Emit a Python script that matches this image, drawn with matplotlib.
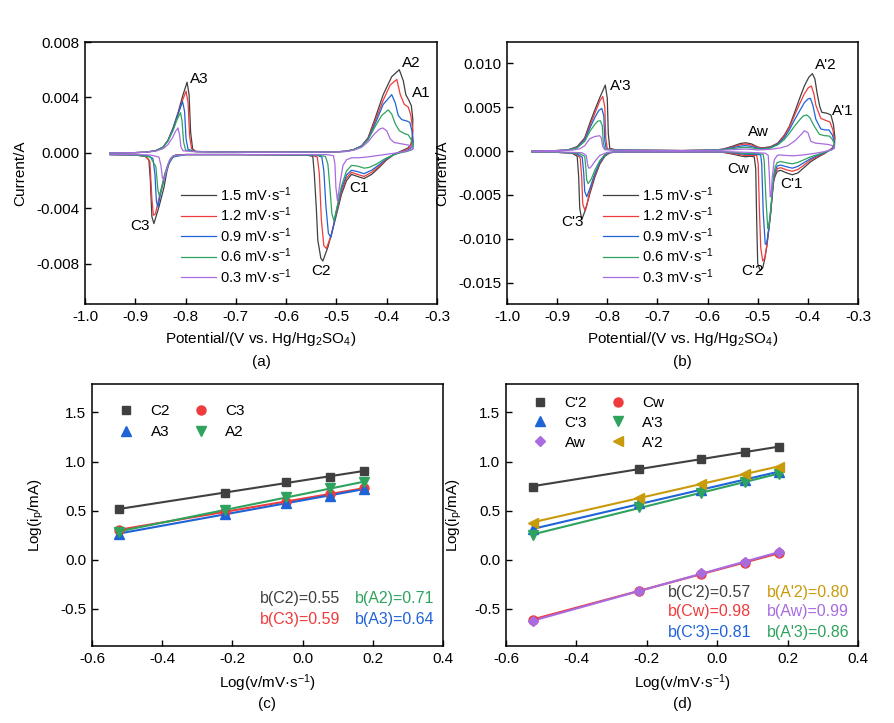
import numpy as np
import matplotlib
matplotlib.use('Agg')
import matplotlib.pyplot as plt

plt.rcParams['font.family'] = ['Liberation Sans', 'DejaVu Sans']
plt.rcParams['mathtext.fontset'] = 'custom'
plt.rcParams['mathtext.rm'] = 'Liberation Sans'
plt.rcParams['mathtext.it'] = 'Liberation Sans:italic'
plt.rcParams['mathtext.bf'] = 'Liberation Sans:bold'

# ---------------- data: CV curves, panel (a)  (E in V, I in mA) ----------------
scan_labels = ['1.5 mV·s$^{-1}$', '1.2 mV·s$^{-1}$', '0.9 mV·s$^{-1}$',
               '0.6 mV·s$^{-1}$', '0.3 mV·s$^{-1}$']

a15_E = [-0.95, -0.90, -0.88, -0.86, -0.845, -0.835, -0.825, -0.815, -0.805, -0.797,
         -0.793, -0.790, -0.786, -0.78, -0.70, -0.60, -0.50, -0.48, -0.465, -0.45,
         -0.437, -0.423, -0.407, -0.39, -0.375, -0.367, -0.362, -0.356, -0.351, -0.348,
         -0.349, -0.352, -0.358, -0.37, -0.385, -0.40, -0.415, -0.43, -0.445, -0.458,
         -0.47, -0.48, -0.49, -0.503, -0.517, -0.527, -0.531, -0.537, -0.540, -0.544,
         -0.547, -0.56, -0.70, -0.80, -0.82, -0.83, -0.837, -0.843, -0.853, -0.863,
         -0.867, -0.870, -0.873, -0.88, -0.90, -0.95]
a15_I = [0.0, 0.02, 0.05, 0.15, 0.4, 0.9, 1.8, 2.9, 4.2, 5.1,
         4.2, 1.5, 0.3, 0.1, 0.05, 0.05, 0.08, 0.12, 0.25, 0.5,
         1.1, 2.5, 4.2, 5.5, 6.0, 5.2, 4.2, 3.8, 3.4, 2.4,
         1.2, 0.6, 0.35, 0.15, -0.1, -0.5, -1.05, -1.55, -1.85, -1.7,
         -1.55, -2.0, -3.0, -4.9, -6.8, -7.8, -7.6, -6.3, -4.0, -1.5,
         -0.25, -0.15, -0.12, -0.12, -0.15, -0.4, -1.3, -2.5, -3.9, -5.1,
         -4.6, -2.0, -0.5, -0.25, -0.15, -0.12]

a12_E = [-0.95, -0.90, -0.88, -0.86, -0.845, -0.835, -0.825, -0.815, -0.806, -0.799,
         -0.795, -0.792, -0.788, -0.78, -0.70, -0.60, -0.50, -0.48, -0.465, -0.45,
         -0.437, -0.423, -0.407, -0.393, -0.38, -0.373, -0.365, -0.357, -0.352, -0.348,
         -0.349, -0.352, -0.358, -0.37, -0.385, -0.40, -0.415, -0.43, -0.445, -0.458,
         -0.47, -0.48, -0.49, -0.50, -0.51, -0.52, -0.525, -0.53, -0.534, -0.538,
         -0.55, -0.70, -0.80, -0.822, -0.832, -0.84, -0.85, -0.86, -0.864, -0.867,
         -0.871, -0.88, -0.90, -0.95]
a12_I = [0.0, 0.02, 0.05, 0.15, 0.4, 0.9, 1.7, 2.8, 3.8, 4.45,
         3.6, 1.2, 0.3, 0.1, 0.05, 0.05, 0.08, 0.12, 0.25, 0.5,
         1.05, 2.3, 3.8, 4.9, 5.3, 4.2, 3.5, 3.3, 2.7, 1.6,
         0.8, 0.5, 0.3, 0.1, -0.1, -0.45, -0.95, -1.4, -1.7, -1.55,
         -1.4, -1.8, -2.8, -4.3, -5.9, -6.9, -6.7, -4.8, -1.5, -0.3,
         -0.15, -0.12, -0.12, -0.2, -0.6, -1.4, -2.8, -4.4, -4.5, -3.3,
         -0.6, -0.25, -0.15, -0.12]

a09_E = [-0.95, -0.90, -0.88, -0.86, -0.845, -0.835, -0.825, -0.815, -0.806, -0.802,
         -0.799, -0.795, -0.78, -0.70, -0.60, -0.50, -0.48, -0.465, -0.45, -0.437,
         -0.423, -0.407, -0.39, -0.383, -0.377, -0.37, -0.36, -0.354, -0.35, -0.347,
         -0.348, -0.352, -0.358, -0.37, -0.385, -0.40, -0.415, -0.43, -0.445, -0.458,
         -0.47, -0.48, -0.49, -0.50, -0.506, -0.511, -0.516, -0.521, -0.525, -0.529,
         -0.54, -0.70, -0.80, -0.825, -0.835, -0.842, -0.85, -0.855, -0.858, -0.861,
         -0.865, -0.875, -0.90, -0.95]
a09_I = [0.0, 0.02, 0.05, 0.15, 0.4, 0.9, 1.7, 2.8, 3.7, 3.0,
         1.0, 0.25, 0.1, 0.05, 0.05, 0.08, 0.12, 0.25, 0.5, 1.0,
         2.1, 3.5, 4.2, 3.6, 2.7, 2.4, 2.3, 2.2, 1.6, 0.8,
         0.5, 0.35, 0.2, 0.05, -0.1, -0.4, -0.85, -1.25, -1.5, -1.35,
         -1.25, -1.6, -2.6, -4.2, -5.3, -6.1, -5.8, -3.8, -1.3, -0.3,
         -0.15, -0.12, -0.12, -0.3, -0.9, -1.8, -3.0, -3.9, -3.5, -1.5,
         -0.4, -0.2, -0.15, -0.12]

a06_E = [-0.95, -0.90, -0.88, -0.86, -0.845, -0.835, -0.825, -0.817, -0.81, -0.807,
         -0.804, -0.80, -0.78, -0.70, -0.60, -0.50, -0.48, -0.465, -0.45, -0.437,
         -0.423, -0.41, -0.397, -0.39, -0.383, -0.375, -0.365, -0.357, -0.352, -0.347,
         -0.348, -0.352, -0.36, -0.375, -0.39, -0.405, -0.42, -0.435, -0.445, -0.458,
         -0.47, -0.48, -0.49, -0.50, -0.505, -0.509, -0.513, -0.517, -0.522, -0.54,
         -0.70, -0.80, -0.825, -0.835, -0.842, -0.848, -0.852, -0.855, -0.859, -0.87,
         -0.90, -0.95]
a06_I = [0.0, 0.02, 0.05, 0.15, 0.4, 0.85, 1.6, 2.4, 2.9, 2.3,
         0.8, 0.2, 0.1, 0.05, 0.05, 0.08, 0.12, 0.25, 0.45, 0.95,
         1.9, 2.7, 3.1, 2.8, 2.1, 1.6, 1.4, 1.3, 1.0, 0.6,
         0.3, 0.2, 0.1, 0.0, -0.2, -0.45, -0.8, -1.05, -1.1, -0.95,
         -0.9, -1.3, -2.4, -4.1, -4.9, -4.4, -2.5, -0.8, -0.25, -0.15,
         -0.12, -0.12, -0.25, -0.8, -1.6, -2.6, -3.1, -2.7, -1.0, -0.3,
         -0.15, -0.12]

a03_E = [-0.95, -0.90, -0.88, -0.86, -0.845, -0.835, -0.826, -0.82, -0.815, -0.812,
         -0.809, -0.805, -0.78, -0.70, -0.60, -0.50, -0.48, -0.465, -0.45, -0.437,
         -0.425, -0.415, -0.408, -0.40, -0.393, -0.385, -0.37, -0.355, -0.348,
         -0.348, -0.355, -0.365, -0.38, -0.40, -0.42, -0.44, -0.455, -0.47, -0.48,
         -0.487, -0.493, -0.498, -0.501, -0.503, -0.506, -0.52, -0.70, -0.80, -0.825,
         -0.833, -0.838, -0.843, -0.846, -0.849, -0.853, -0.87, -0.90, -0.95]
a03_I = [0.0, 0.02, 0.05, 0.12, 0.3, 0.6, 1.1, 1.55, 1.8, 1.3,
         0.4, 0.15, 0.08, 0.05, 0.05, 0.07, 0.1, 0.2, 0.4, 0.8,
         1.35, 1.7, 1.8, 1.6, 1.0, 0.75, 0.65, 0.55, 0.35,
         0.25, 0.2, 0.1, 0.0, -0.1, -0.2, -0.3, -0.35, -0.35, -0.5,
         -0.9, -2.2, -3.45, -2.5, -0.8, -0.2, -0.12, -0.12, -0.12, -0.2,
         -0.6, -1.3, -1.95, -1.8, -0.9, -0.3, -0.15, -0.12, -0.12]

# ---------------- data: CV curves, panel (b)  (E in V, I in mA) ----------------
b15_E = [-0.95, -0.90, -0.88, -0.86, -0.845, -0.834, -0.824, -0.814, -0.804, -0.800,
         -0.798, -0.795, -0.78, -0.65, -0.59, -0.57, -0.55, -0.535, -0.524, -0.512,
         -0.50, -0.49, -0.474, -0.46, -0.447, -0.437, -0.427, -0.417, -0.407, -0.398,
         -0.391, -0.386, -0.381, -0.376, -0.372, -0.362, -0.354, -0.349, -0.346,
         -0.347, -0.352, -0.367, -0.38, -0.394, -0.41, -0.42, -0.431, -0.442, -0.454,
         -0.461, -0.465, -0.468, -0.471, -0.474, -0.478, -0.482, -0.486, -0.490, -0.495,
         -0.500, -0.502, -0.504, -0.507, -0.515, -0.525, -0.535, -0.55, -0.57, -0.60,
         -0.78, -0.795, -0.805, -0.815, -0.825, -0.835, -0.843, -0.851, -0.855, -0.857,
         -0.86, -0.87, -0.90, -0.95]
b15_I = [0.0, 0.05, 0.1, 0.5, 1.5, 3.3, 4.8, 6.2, 7.5, 6.0,
         2.0, 0.3, 0.1, 0.05, 0.1, 0.2, 0.55, 0.85, 0.94, 0.8,
         0.45, 0.35, 0.5, 0.9, 1.8, 2.8, 4.3, 5.9, 7.4, 8.4,
         8.8, 8.2, 6.4, 5.0, 4.4, 4.3, 4.1, 3.0, 1.5,
         0.8, 0.3, -0.3, -0.7, -1.2, -2.0, -2.5, -2.7, -2.5, -2.2,
         -2.3, -2.8, -3.4, -5.0, -7.0, -9.0, -10.9, -12.3, -13.3, -13.6,
         -12.8, -8.0, -2.0, -0.65, -0.6, -0.65, -0.55, -0.35, -0.15, -0.1,
         -0.1, -0.2, -0.6, -1.5, -3.0, -4.9, -6.6, -7.8, -6.5, -3.0,
         -0.6, -0.25, -0.15, -0.1]

b12_E = [-0.95, -0.90, -0.88, -0.86, -0.845, -0.834, -0.824, -0.815, -0.809, -0.805,
         -0.803, -0.800, -0.78, -0.65, -0.59, -0.57, -0.55, -0.535, -0.524, -0.512,
         -0.50, -0.49, -0.474, -0.46, -0.447, -0.437, -0.427, -0.417, -0.407, -0.399,
         -0.393, -0.388, -0.384, -0.374, -0.365, -0.356, -0.35, -0.347,
         -0.347, -0.352, -0.367, -0.38, -0.394, -0.41, -0.42, -0.431, -0.442, -0.454,
         -0.461, -0.465, -0.468, -0.471, -0.474, -0.478, -0.482, -0.486, -0.490, -0.494,
         -0.497, -0.499, -0.502, -0.515, -0.525, -0.535, -0.55, -0.57, -0.60, -0.78,
         -0.795, -0.805, -0.815, -0.825, -0.835, -0.841, -0.845, -0.849, -0.851, -0.854,
         -0.86, -0.87, -0.90, -0.95]
b12_I = [0.0, 0.05, 0.1, 0.45, 1.4, 3.0, 4.4, 5.7, 6.2, 5.0,
         1.5, 0.25, 0.1, 0.05, 0.1, 0.2, 0.45, 0.72, 0.8, 0.68,
         0.4, 0.3, 0.45, 0.85, 1.7, 2.7, 4.0, 5.3, 6.5, 7.2,
         7.4, 6.5, 5.2, 3.7, 3.5, 3.3, 2.4, 1.2,
         0.6, 0.25, -0.25, -0.6, -1.0, -1.7, -2.1, -2.3, -2.15, -1.9,
         -2.0, -2.5, -3.2, -4.9, -6.9, -8.9, -10.8, -12.2, -12.5, -11.0,
         -6.0, -1.5, -0.5, -0.5, -0.5, -0.42, -0.28, -0.12, -0.1, -0.1,
         -0.2, -0.55, -1.4, -2.8, -4.6, -6.2, -6.7, -6.0, -3.0, -0.8,
         -0.4, -0.2, -0.15, -0.1]

b09_E = [-0.95, -0.90, -0.88, -0.86, -0.845, -0.834, -0.824, -0.817, -0.811, -0.807,
         -0.805, -0.802, -0.78, -0.65, -0.59, -0.57, -0.55, -0.535, -0.524, -0.512,
         -0.50, -0.49, -0.474, -0.46, -0.447, -0.437, -0.427, -0.417, -0.407, -0.40,
         -0.395, -0.39, -0.384, -0.374, -0.365, -0.358, -0.351, -0.347,
         -0.347, -0.352, -0.367, -0.38, -0.394, -0.41, -0.42, -0.431, -0.442, -0.454,
         -0.461, -0.465, -0.468, -0.471, -0.474, -0.478, -0.482, -0.485, -0.489, -0.492,
         -0.494, -0.50, -0.515, -0.525, -0.535, -0.55, -0.57, -0.60, -0.78, -0.795,
         -0.805, -0.815, -0.825, -0.835, -0.841, -0.845, -0.847, -0.85, -0.86, -0.87,
         -0.90, -0.95]
b09_I = [0.0, 0.05, 0.1, 0.4, 1.3, 2.7, 3.9, 4.6, 4.85, 4.0,
         1.2, 0.2, 0.1, 0.05, 0.1, 0.18, 0.38, 0.55, 0.62, 0.52,
         0.32, 0.25, 0.4, 0.8, 1.5, 2.4, 3.5, 4.5, 5.5, 5.9,
         6.0, 5.2, 3.6, 2.5, 2.4, 2.4, 1.8, 1.0,
         0.5, 0.2, -0.2, -0.5, -0.85, -1.4, -1.75, -1.95, -1.8, -1.6,
         -1.7, -2.2, -3.0, -4.8, -6.8, -8.8, -10.5, -10.6, -7.0, -1.5,
         -0.45, -0.4, -0.38, -0.38, -0.3, -0.2, -0.1, -0.1, -0.1, -0.18,
         -0.5, -1.3, -2.6, -4.3, -5.2, -4.6, -2.5, -0.7, -0.35, -0.2,
         -0.15, -0.1]

b06_E = [-0.95, -0.90, -0.88, -0.86, -0.845, -0.834, -0.824, -0.819, -0.814, -0.81,
         -0.808, -0.805, -0.78, -0.65, -0.59, -0.57, -0.55, -0.535, -0.524, -0.512,
         -0.50, -0.49, -0.474, -0.46, -0.447, -0.437, -0.427, -0.417, -0.409, -0.402,
         -0.396, -0.387, -0.377, -0.367, -0.357, -0.351, -0.347,
         -0.347, -0.352, -0.367, -0.38, -0.394, -0.41, -0.42, -0.431, -0.442, -0.454,
         -0.461, -0.465, -0.468, -0.471, -0.474, -0.478, -0.480, -0.484, -0.487, -0.489,
         -0.495, -0.515, -0.525, -0.535, -0.55, -0.57, -0.60, -0.78, -0.795, -0.805,
         -0.815, -0.825, -0.832, -0.838, -0.841, -0.843, -0.845, -0.855, -0.87, -0.90,
         -0.95]
b06_I = [0.0, 0.05, 0.1, 0.35, 1.1, 2.3, 3.1, 3.4, 3.45, 2.9,
         1.0, 0.2, 0.1, 0.05, 0.1, 0.15, 0.28, 0.38, 0.42, 0.36,
         0.25, 0.2, 0.35, 0.7, 1.3, 2.0, 2.8, 3.5, 4.0, 4.1,
         3.8, 2.8, 1.9, 1.75, 1.7, 1.3, 0.8,
         0.4, 0.15, -0.15, -0.4, -0.65, -1.05, -1.3, -1.45, -1.35, -1.2,
         -1.3, -1.8, -2.7, -4.5, -6.6, -8.6, -8.8, -5.0, -1.2, -0.4,
         -0.3, -0.3, -0.3, -0.22, -0.15, -0.1, -0.1, -0.1, -0.15, -0.4,
         -1.1, -2.2, -3.2, -3.7, -3.3, -1.8, -0.6, -0.3, -0.2, -0.15,
         -0.1]

b03_E = [-0.95, -0.90, -0.87, -0.855, -0.845, -0.835, -0.825, -0.815, -0.812, -0.809,
         -0.805, -0.78, -0.65, -0.59, -0.57, -0.55, -0.535, -0.524, -0.512, -0.50,
         -0.474, -0.455, -0.44, -0.425, -0.413, -0.407, -0.40, -0.394, -0.385, -0.36,
         -0.35, -0.347,
         -0.347, -0.355, -0.37, -0.39, -0.41, -0.43, -0.445, -0.455, -0.461, -0.467,
         -0.471, -0.473, -0.475, -0.477, -0.479, -0.485, -0.50, -0.52, -0.55, -0.60,
         -0.78, -0.80, -0.815, -0.825, -0.831, -0.834, -0.837, -0.839, -0.842, -0.85,
         -0.87, -0.90, -0.95]
b03_I = [0.0, 0.05, 0.1, 0.25, 0.6, 1.4, 1.65, 1.74, 1.5, 0.5,
         0.15, 0.08, 0.05, 0.08, 0.1, 0.15, 0.2, 0.22, 0.18, 0.12,
         0.2, 0.35, 0.6, 1.2, 1.9, 2.3, 2.1, 1.1, 0.9, 0.75,
         0.6, 0.4,
         0.3, 0.1, -0.1, -0.3, -0.45, -0.55, -0.5, -0.45, -0.5, -1.0,
         -3.0, -5.0, -5.2, -2.5, -0.5, -0.25, -0.2, -0.15, -0.1, -0.1,
         -0.1, -0.15, -0.5, -1.2, -1.7, -1.9, -1.95, -1.6, -0.5, -0.2,
         -0.15, -0.1, -0.1]

# ---------------- data: log(ip) vs log(v) ----------------
log_v = [-0.523, -0.222, -0.046, 0.079, 0.176]

c_C2 = [0.514, 0.684, 0.790, 0.847, 0.902]
c_C3 = [0.303, 0.490, 0.592, 0.670, 0.728]
c_A3 = [0.262, 0.466, 0.582, 0.650, 0.718]
c_A2 = [0.286, 0.507, 0.637, 0.728, 0.790]
c_names = ['C2', 'A3', 'C3', 'A2']
c_bvals = ['b(C2)=0.55', 'b(A2)=0.71', 'b(C3)=0.59', 'b(A3)=0.64']

d_C2p = [0.745, 0.926, 1.028, 1.102, 1.143]
d_Cw = [-0.610, -0.316, -0.146, -0.030, 0.065]
d_C3p = [0.310, 0.575, 0.711, 0.813, 0.898]
d_A3p = [0.252, 0.535, 0.684, 0.790, 0.874]
d_Aw = [-0.622, -0.322, -0.139, -0.020, 0.075]
d_A2p = [0.378, 0.633, 0.772, 0.871, 0.949]
d_names = ["C'2", "C'3", 'Aw', 'Cw', "A'3", "A'2"]
d_bvals = ["b(C'2)=0.57", "b(A'2)=0.80", "b(Cw)=0.98", "b(Aw)=0.99",
           "b(C'3)=0.81", "b(A'3)=0.86"]

cv_xticks = [-1.0, -0.9, -0.8, -0.7, -0.6, -0.5, -0.4, -0.3]
cv_xticklabels = ['-1.0', '-0.9', '-0.8', '-0.7', '-0.6', '-0.5', '-0.4', '-0.3']
a_yticks = [-0.008, -0.004, 0.0, 0.004, 0.008]
a_yticklabels = ['-0.008', '-0.004', '0.000', '0.004', '0.008']
b_yticks = [-0.015, -0.010, -0.005, 0.0, 0.005, 0.010]
b_yticklabels = ['-0.015', '-0.010', '-0.005', '0.000', '0.005', '0.010']
log_xticks = [-0.6, -0.4, -0.2, 0.0, 0.2, 0.4]
log_xticklabels = ['-0.6', '-0.4', '-0.2', '0.0', '0.2', '0.4']
log_yticks = [-0.5, 0.0, 0.5, 1.0, 1.5]
log_yticklabels = ['-0.5', '0.0', '0.5', '1.0', '1.5']

# ---------------- styles ----------------
K = '#404040'
R = '#EE3B3B'
B = '#1F63D6'
G = '#2EA35E'
P = '#A86BE0'
Y = '#C99A0A'
cv_colors = [K, R, B, G, P]
FS = 11

fig = plt.figure(figsize=(8.95, 7.23), dpi=100)


def rect(l, t, r, b):
    return [l / 895, 1 - b / 723, (r - l) / 895, (b - t) / 723]


def style(ax):
    ax.tick_params(direction='in', length=4.5, width=1.0, labelsize=FS,
                   top=False, right=False, pad=4)
    for s in ax.spines.values():
        s.set_linewidth(1.1)


axA = fig.add_axes(rect(85, 42, 437, 304))
axB = fig.add_axes(rect(507, 42, 858, 304))
axC = fig.add_axes(rect(92, 384, 443, 646))
axD = fig.add_axes(rect(506, 384, 858, 646))

XLAB_Y = -0.10
CAP_Y = -0.22

# ---- panel (a) ----
a_curves = [(a15_E, a15_I), (a12_E, a12_I), (a09_E, a09_I), (a06_E, a06_I), (a03_E, a03_I)]
for (E, I), col, lab in zip(a_curves, cv_colors, scan_labels):
    axA.plot(E, np.array(I) / 1000.0, color=col, lw=0.9, label=lab)
axA.set_xlim(-1.0, -0.3)
axA.set_ylim(-0.0109, 0.008)
axA.set_xticks(cv_xticks)
axA.set_xticklabels(cv_xticklabels)
axA.set_yticks(a_yticks)
axA.set_yticklabels(a_yticklabels)
style(axA)
axA.set_xlabel('Potential/(V vs. Hg/Hg$_2$SO$_4$)', fontsize=FS)
axA.set_ylabel('Current/A', fontsize=FS)
axA.yaxis.set_label_coords(-0.165, 0.5)
axA.xaxis.set_label_coords(0.5, XLAB_Y)
axA.legend(loc='upper left', bbox_to_anchor=(181 / 895, 1 - 185 / 723),
           bbox_transform=fig.transFigure, frameon=False, fontsize=10.5,
           handlelength=2.4, handletextpad=0.3, labelspacing=0.13,
           borderpad=0, borderaxespad=0)
for txt, x, y in [('A3', -0.772, 0.0053), ('C3', -0.89, -0.0053), ('C2', -0.53, -0.0085),
                  ('C1', -0.456, -0.0025), ('A2', -0.352, 0.0065), ('A1', -0.332, 0.0043)]:
    axA.text(x, y, txt, ha='center', va='center', fontsize=FS)
axA.text(0.5, CAP_Y, '(a)', transform=axA.transAxes, ha='center', va='center', fontsize=FS)

# ---- panel (b) ----
b_curves = [(b15_E, b15_I), (b12_E, b12_I), (b09_E, b09_I), (b06_E, b06_I), (b03_E, b03_I)]
for (E, I), col, lab in zip(b_curves, cv_colors, scan_labels):
    axB.plot(E, np.array(I) / 1000.0, color=col, lw=0.9, label=lab)
axB.set_xlim(-1.0, -0.3)
axB.set_ylim(-0.0174, 0.0124)
axB.set_xticks(cv_xticks)
axB.set_xticklabels(cv_xticklabels)
axB.set_yticks(b_yticks)
axB.set_yticklabels(b_yticklabels)
style(axB)
axB.set_xlabel('Potential/(V vs. Hg/Hg$_2$SO$_4$)', fontsize=FS)
axB.set_ylabel('Current/A', fontsize=FS)
axB.yaxis.set_label_coords(-0.165, 0.5)
axB.xaxis.set_label_coords(0.5, XLAB_Y)
axB.legend(loc='upper left', bbox_to_anchor=(603 / 895, 1 - 185 / 723),
           bbox_transform=fig.transFigure, frameon=False, fontsize=10.5,
           handlelength=2.4, handletextpad=0.3, labelspacing=0.13,
           borderpad=0, borderaxespad=0)
for txt, x, y in [("A'3", -0.774, 0.0074), ("C'3", -0.87, -0.0081), ('Aw', -0.498, 0.0022),
                  ('Cw', -0.538, -0.0021), ("C'1", -0.432, -0.0038), ("C'2", -0.51, -0.0136),
                  ("A'2", -0.364, 0.0098), ("A'1", -0.33, 0.0045)]:
    axB.text(x, y, txt, ha='center', va='center', fontsize=FS)
axB.text(0.5, CAP_Y, '(b)', transform=axB.transAxes, ha='center', va='center', fontsize=FS)


# ---- panel (c) ----
def fit_plot(ax, y, col, marker, ms):
    k, b0 = np.polyfit(log_v, y, 1)
    xs = np.array([log_v[0], log_v[-1]])
    ax.plot(xs, k * xs + b0, color=col, lw=1.5, zorder=2)
    h, = ax.plot(log_v, y, linestyle='none', marker=marker, ms=ms, color=col,
                 mec=col, zorder=3)
    return h


hC2 = fit_plot(axC, c_C2, K, 's', 6)
hC3 = fit_plot(axC, c_C3, R, 'o', 6.5)
hA3 = fit_plot(axC, c_A3, B, '^', 7)
hA2 = fit_plot(axC, c_A2, G, 'v', 7)
axC.set_xlim(-0.6, 0.4)
axC.set_ylim(-0.88, 1.79)
axC.set_xticks(log_xticks)
axC.set_xticklabels(log_xticklabels)
axC.set_yticks(log_yticks)
axC.set_yticklabels(log_yticklabels)
style(axC)
axC.set_xlabel('Log(v/mV·s$^{-1}$)', fontsize=FS)
axC.set_ylabel('Log(i$_\\mathrm{p}$/mA)', fontsize=FS)
axC.yaxis.set_label_coords(-0.13, 0.5)
axC.xaxis.set_label_coords(0.5, XLAB_Y)
axC.legend([hC2, hA3, hC3, hA2], c_names, ncol=2, loc='upper left',
           bbox_to_anchor=(111 / 895, 1 - 404 / 723), bbox_transform=fig.transFigure,
           frameon=False, fontsize=FS, handlelength=2.0, handletextpad=0.6,
           columnspacing=1.0, labelspacing=0.45, borderpad=0, borderaxespad=0)
for txt, col, x, y in [(c_bvals[0], K, 0.479, 0.183), (c_bvals[1], G, 0.749, 0.183),
                       (c_bvals[2], R, 0.479, 0.103), (c_bvals[3], B, 0.749, 0.103)]:
    axC.text(x, y, txt, color=col, transform=axC.transAxes, ha='left', va='center',
             fontsize=11.5)
axC.text(0.5, CAP_Y, '(c)', transform=axC.transAxes, ha='center', va='center', fontsize=FS)

# ---- panel (d) ----
hC2p = fit_plot(axD, d_C2p, K, 's', 6)
hCw = fit_plot(axD, d_Cw, R, 'o', 6.5)
hC3p = fit_plot(axD, d_C3p, B, '^', 7)
hA3p = fit_plot(axD, d_A3p, G, 'v', 7)
hAw = fit_plot(axD, d_Aw, P, 'D', 5.5)
hA2p = fit_plot(axD, d_A2p, Y, '<', 7)
axD.set_xlim(-0.6, 0.4)
axD.set_ylim(-0.88, 1.79)
axD.set_xticks(log_xticks)
axD.set_xticklabels(log_xticklabels)
axD.set_yticks(log_yticks)
axD.set_yticklabels(log_yticklabels)
style(axD)
axD.set_xlabel('Log(v/mV·s$^{-1}$)', fontsize=FS)
axD.set_ylabel('Log(i$_\\mathrm{p}$/mA)', fontsize=FS)
axD.yaxis.set_label_coords(-0.12, 0.5)
axD.xaxis.set_label_coords(0.5, XLAB_Y)
axD.legend([hC2p, hC3p, hAw, hCw, hA3p, hA2p], d_names, ncol=2, loc='upper left',
           bbox_to_anchor=(525 / 895, 1 - 396 / 723), bbox_transform=fig.transFigure,
           frameon=False, fontsize=FS, handlelength=2.0, handletextpad=0.6,
           columnspacing=1.0, labelspacing=0.38, borderpad=0, borderaxespad=0)
for txt, col, x, y in [(d_bvals[0], K, 0.46, 0.206), (d_bvals[1], Y, 0.7415, 0.206),
                       (d_bvals[2], R, 0.46, 0.130), (d_bvals[3], P, 0.7415, 0.130),
                       (d_bvals[4], B, 0.46, 0.050), (d_bvals[5], G, 0.7415, 0.050)]:
    axD.text(x, y, txt, color=col, transform=axD.transAxes, ha='left', va='center',
             fontsize=11.5)
axD.text(0.5, CAP_Y, '(d)', transform=axD.transAxes, ha='center', va='center', fontsize=FS)

fig.savefig('out.png', dpi=100)
